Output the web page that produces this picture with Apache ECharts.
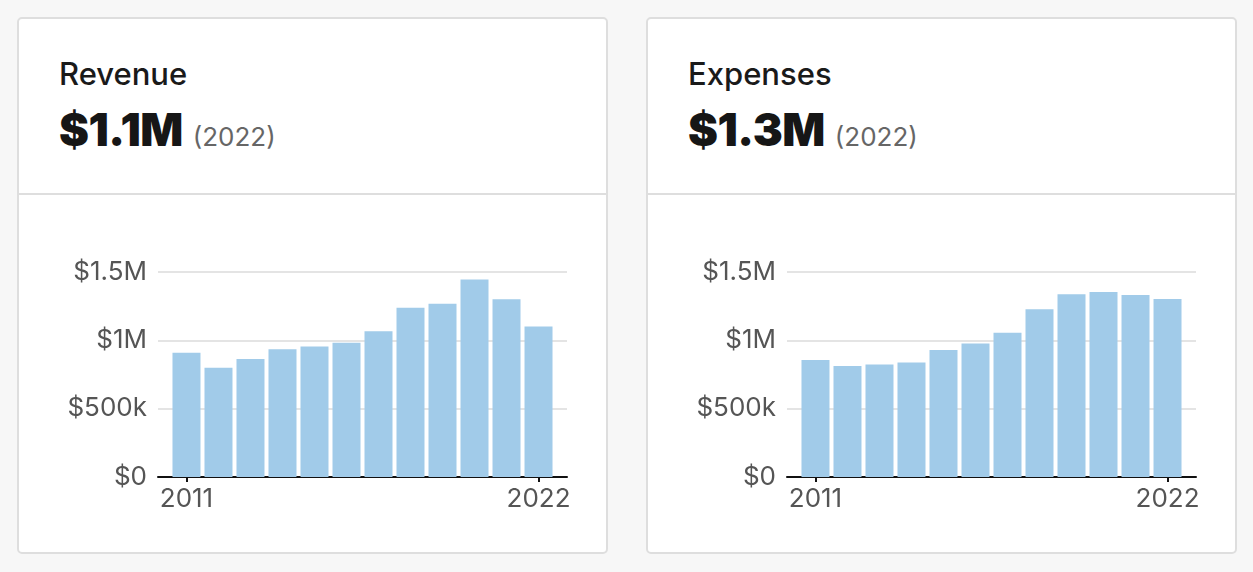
<!DOCTYPE html>
<html>
<head>
<meta charset="utf-8">
<title>Revenue / Expenses</title>
<script src="https://cdn.jsdelivr.net/npm/echarts@6/dist/echarts.min.js"></script>
<style>
  html, body {
    margin: 0;
    padding: 0;
    width: 1253px;
    height: 572px;
    background: #f7f7f7;
    font-family: Inter, "Noto Sans", sans-serif;
    overflow: hidden;
  }
  .card {
    position: absolute;
    top: 17px;
    width: 591px;
    height: 537px;
    box-sizing: border-box;
    border: 2px solid #dedede;
    border-radius: 5px;
    background: #fff;
  }
  .card-head {
    position: absolute;
    left: 0;
    top: 0;
    width: 100%;
    height: 174px;
    border-bottom: 2px solid #dedede;
  }
  .name {
    position: absolute;
    left: 40px;
    top: 39px;
    font-size: 31px;
    font-weight: 500;
    color: #1a1a1a;
    line-height: 1;
  }
  .big {
    position: absolute;
    left: 40px;
    top: 88px;
    line-height: 1;
    white-space: nowrap;
  }
  .big b {
    font-size: 45px;
    font-weight: 900;
    color: #161616;
    letter-spacing: -0.5px;
  }
  .big span {
    font-size: 26px;
    color: #666;
    margin-left: 10px;
  }
  .chart {
    position: absolute;
    left: 0;
    top: 176px;
    width: 587px;
    height: 357px;
  }
</style>
</head>
<body>
  <div class="card" style="left:17px">
    <div class="card-head">
      <div class="name">Revenue</div>
      <div class="big"><b>$1.1M</b><span>(2022)</span></div>
    </div>
    <div class="chart" id="chartRevenue"></div>
  </div>

  <div class="card" style="left:646px">
    <div class="card-head">
      <div class="name">Expenses</div>
      <div class="big"><b>$1.3M</b><span>(2022)</span></div>
    </div>
    <div class="chart" id="chartExpenses"></div>
  </div>

<script>
// 年份
var years = [2011, 2012, 2013, 2014, 2015, 2016, 2017, 2018, 2019, 2020, 2021, 2022];
// 收入（美元）
var revenue = [910000, 800000, 863000, 934000, 954000, 983000, 1066000, 1239000, 1268000, 1446000, 1300000, 1102000];
// 支出（美元）
var expenses = [856000, 812000, 824000, 837000, 929000, 976000, 1056000, 1227000, 1337000, 1353000, 1331000, 1302000];
// 横轴只标首尾两年
var xTickYears = [2011, 2022];
// 纵轴刻度
var yTicks = [0, 500000, 1000000, 1500000];

function money(v) {
  if (v === 0) return "$0";
  if (v >= 1000000) return "$" + v / 1000000 + "M";
  return "$" + v / 1000 + "k";
}

function makeOption(values) {
  return {
    animation: false,
    grid: { left: 139, top: 77, width: 409, height: 205 },
    xAxis: {
      type: "value",
      min: 2010.11,
      max: 2022.89,
      splitLine: { show: false },
      axisLine: { show: true, lineStyle: { color: "#111", width: 2 } },
      axisTick: {
        show: true,
        customValues: xTickYears,
        length: 5,
        lineStyle: { color: "#111", width: 2 }
      },
      axisLabel: {
        customValues: xTickYears,
        formatter: function (v) { return String(v); },
        color: "#555",
        fontFamily: "Inter",
        fontSize: 26,
        margin: 9
      }
    },
    yAxis: {
      type: "value",
      min: yTicks[0],
      max: yTicks[yTicks.length - 1],
      interval: 500000,
      axisLine: { show: false },
      axisTick: { show: false },
      splitLine: { lineStyle: { color: "#e4e4e4", width: 2 } },
      axisLabel: {
        formatter: money,
        color: "#555",
        fontFamily: "Inter",
        fontSize: 26,
        margin: 11
      }
    },
    series: [
      {
        type: "bar",
        barWidth: 28,
        itemStyle: { color: "#a1cbe9" },
        data: years.map(function (y, i) { return [y, values[i]]; })
      }
    ]
  };
}

var revChart = echarts.init(document.getElementById("chartRevenue"));
revChart.setOption(makeOption(revenue));
var expChart = echarts.init(document.getElementById("chartExpenses"));
expChart.setOption(makeOption(expenses));
window.addEventListener("resize", function () {
  revChart.resize();
  expChart.resize();
});
</script>
</body>
</html>
